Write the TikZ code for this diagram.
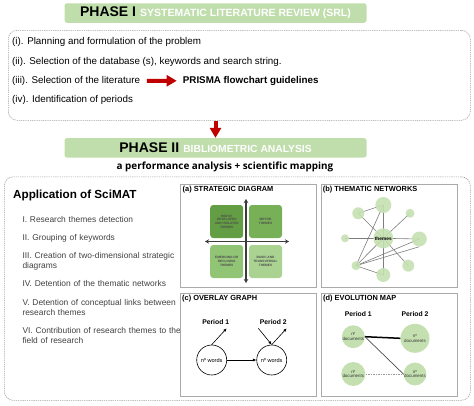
\documentclass[tikz,border=0pt]{standalone}
\usepackage{fontspec}
\setmainfont{Liberation Sans}
\newfontfamily\osans{Open Sans}
\usetikzlibrary{arrows.meta}
\pgfdeclarelayer{background}
\pgfsetlayers{background,main}
\definecolor{bannergreen}{RGB}{192,222,172}
\definecolor{nodegreen}{RGB}{196,224,176}
\definecolor{arrowred}{RGB}{192,0,0}
\definecolor{sqA}{RGB}{100,158,68}
\definecolor{sqB}{RGB}{120,176,88}
\definecolor{sqC}{RGB}{146,196,118}
\definecolor{sqD}{RGB}{170,210,145}
\definecolor{txtgray}{RGB}{64,64,64}
\definecolor{boxgray}{RGB}{160,160,160}
\definecolor{panelgray}{RGB}{170,170,170}
\definecolor{edgegray}{RGB}{125,125,125}
\definecolor{axisgray}{RGB}{60,60,60}
\begin{document}
\begin{tikzpicture}[x=1pt,y=-1pt,
  banner/.style={fill=bannergreen, rounded corners=2.5pt, minimum width=302pt, minimum height=19.5pt, inner sep=0pt},
  phasebox/.style={draw=boxgray, line width=0.6pt, dash pattern=on 1.3pt off 0.9pt, rounded corners=9pt, inner sep=0pt, anchor=north west},
  panel/.style={draw=panelgray, line width=0.8pt, minimum width=136pt, minimum height=103pt, inner sep=0pt, anchor=north west},
  bodytxt/.style={font=\fontsize{9.8}{11}\selectfont, anchor=base west, inner sep=0pt},
  listtxt/.style={font=\fontsize{8.4}{10}\selectfont, text=txtgray, anchor=base west, inner sep=0pt, text width=175pt, align=left},
  ptitle/.style={font=\fontsize{7.4}{8}\selectfont\bfseries, anchor=base west, inner sep=0pt},
  redarrow/.style={draw=arrowred, line width=4pt, -{Triangle[length=10pt,width=11pt]}},
  sq/.style={rounded corners=3pt, minimum width=33pt, minimum height=33pt, inner sep=0pt, align=center, font=\fontsize{3.2}{3.7}\selectfont\bfseries, text=black!70},
  axisline/.style={draw=axisgray, line width=1.4pt, {Stealth[length=4pt,width=4.5pt]}-{Stealth[length=4pt,width=4.5pt]}},
  netnode/.style={circle, fill=nodegreen, fill opacity=0.9, inner sep=0pt, minimum size=#1},
  netedge/.style={draw=edgegray, line width=0.6pt},
  wordcircle/.style={circle, draw=black, line width=0.6pt, minimum size=30pt, inner sep=0pt, font=\fontsize{5.6}{6}\selectfont},
  flowarrow/.style={draw=black, line width=0.6pt, -{Latex[length=3.5pt,width=3pt]}},
  pertxt/.style={font=\fontsize{6.8}{7}\selectfont\bfseries, inner sep=0pt},
  docnode/.style={circle, fill=nodegreen, inner sep=0pt, minimum size=#1, align=center, font=\fontsize{4.4}{4.8}\selectfont, text=black!80}
]
\useasboundingbox (0,0) rectangle (474,405);

% ---------- Phase I ----------
\node[banner] (ph1) at (215.5,13) {{\fontsize{14}{14}\selectfont\bfseries PHASE I}\hspace{4pt}{\fontsize{10.5}{10.5}\selectfont\bfseries\color{white}SYSTEMATIC LITERATURE REVIEW (SRL)}};
\node[phasebox, minimum width=462pt, minimum height=90pt] (box1) at (8,30) {};
\node[bodytxt] (it1) at (12,44) {(i). Planning and formulation of the problem};
\node[bodytxt] (it2) at (12,64) {(ii). Selection of the database (s), keywords and search string.};
\node[bodytxt] (it3) at (12,83.3) {(iii). Selection of the literature};
\node[bodytxt, font=\fontsize{9.8}{11}\selectfont\bfseries] (prisma) at (182.7,83.3) {PRISMA flowchart guidelines};
\node[bodytxt] (it4) at (12,102.3) {(iv). Identification of periods};
\draw[redarrow, shorten <=6.7pt, shorten >=6pt] (it3) -- (prisma);

% ---------- Phase II ----------
\node[banner] (ph2) at (215.5,147.8) {{\fontsize{14}{14}\selectfont\bfseries PHASE II}\hspace{4pt}{\fontsize{10.3}{10.3}\selectfont\bfseries\color{white}BIBLIOMETRIC ANALYSIS}};
\draw[redarrow] (ph2.north |- box1.south) -- (ph2.north);
\node[font=\osans\bfseries\fontsize{9.9}{11}\selectfont, inner sep=0pt] (sub) at (225,166.5) {a performance analysis + scientific mapping};
\node[phasebox, minimum width=466pt, minimum height=223.5pt] (box2) at (4,176.5) {};

\node[font=\fontsize{11.7}{13}\selectfont\bfseries, anchor=base west, inner sep=0pt] (app) at (13,198.5) {Application of SciMAT};
\node[listtxt] (l1) at (22.3,222) {I. Research themes detection};
\node[listtxt] (l2) at (22.3,240.3) {II. Grouping of keywords};
\node[listtxt] (l3) at (22.3,258.7) {III. Creation of two-dimensional strategic\\diagrams};
\node[listtxt] (l4) at (22.3,286.7) {IV. Detention of the thematic networks};
\node[listtxt] (l5) at (22.3,305.5) {V. Detention of conceptual links between\\research themes};
\node[listtxt] (l6) at (22.3,333) {VI. Contribution of research themes to the\\field of research};

% ---------- Panels ----------
\node[panel] (pa) at (180,184) {};
\node[panel] (pb) at (320.5,184) {};
\node[panel] (pc) at (180,292.5) {};
\node[panel] (pd) at (320.5,292.5) {};
\node[ptitle] (ta) at (182.5,191.3) {(a) STRATEGIC DIAGRAM};
\node[ptitle] (tb) at (322.7,191.3) {(b) THEMATIC NETWORKS};
\node[ptitle] (tc) at (182,300.5) {(c) OVERLAY GRAPH};
\node[ptitle] (td) at (323,300.5) {(d) EVOLUTION MAP};

% (a) strategic diagram
\node[sq, fill=sqA] (s1) at (226.7,221.5) {HIGHLY\\DEVELOPED\\AND ISOLATED\\THEMES};
\node[sq, fill=sqB] (s2) at (265.5,221.5) {MOTOR\\THEMES};
\node[sq, fill=sqC] (s3) at (226.7,261.5) {EMERGING OR\\DECLINING\\THEMES};
\node[sq, fill=sqD] (s4) at (265.5,261.5) {BASIC AND\\TRANSVERSAL\\THEMES};
\coordinate (vt) at (246,199);
\coordinate (vb) at (246,283);
\coordinate (hl) at (205,241.5);
\coordinate (hr) at (289,241.5);
\draw[axisline] (vb) -- (vt);
\draw[axisline] (hl) -- (hr);

% (b) thematic network
\node[netnode=16pt] (nT) at (383.3,205) {};
\node[netnode=12pt] (nUL) at (358.3,213.3) {};
\node[netnode=9pt] (nUR) at (410,213.3) {};
\node[netnode=8pt] (nL) at (345,238.3) {};
\node[netnode=20pt] (nC) at (383.3,238.3) {};
\node[netnode=15pt] (nR) at (419.3,239) {};
\node[netnode=9pt] (nBL) at (356,265.7) {};
\node[netnode=14pt] (nB) at (383.3,275) {};
\node[netnode=12pt] (nBR) at (408.3,265.7) {};
\begin{pgfonlayer}{background}
\draw[netedge] (nUL.center) -- (nT.center);
\draw[netedge] (nUL.center) -- (nC.center);
\draw[netedge] (nT.center) -- (nC.center);
\draw[netedge] (nT.center) -- (nBL.center);
\draw[netedge] (nUR.center) -- (nC.center);
\draw[netedge] (nL.center) -- (nC.center);
\draw[netedge] (nC.center) -- (nR.center);
\draw[netedge] (nC.center) -- (nBL.center);
\draw[netedge] (nC.center) -- (nBR.center);
\draw[netedge] (nC.center) -- (nB.center);
\draw[netedge] (nBL.center) -- (nR.center);
\draw[netedge] (nBL.center) -- (nR.south);
\draw[netedge] (nBL.center) -- (nB.center);
\end{pgfonlayer}
\node[font=\fontsize{4.8}{5}\selectfont\bfseries, inner sep=0pt] (themeslbl) at (nC.center) {themes};

% (c) overlay graph
\node[wordcircle] (c1) at (211.7,360) {nº words};
\node[wordcircle] (c2) at (271.7,360) {nº words};
\draw[flowarrow] (c1) -- (c2);
\node[pertxt] (cp1) at (215.7,321.7) {Period 1};
\node[pertxt] (cp2) at (273.3,321.7) {Period 2};
\coordinate (a1) at (226.7,328.3);
\coordinate (a2) at (258.3,328.3);
\coordinate (a3) at (286.7,328.3);
\draw[flowarrow] (c1.north) -- (a1);
\draw[flowarrow] (a2) -- (c2.north);
\draw[flowarrow] (c2.north) -- (a3);

% (d) evolution map
\node[pertxt] (dp1) at (358.3,314) {Period 1};
\node[pertxt] (dp2) at (415,314) {Period 2};
\node[docnode=22pt] (d1) at (353.3,336.7) {nº\\documents};
\node[docnode=29pt] (d2) at (415,338.3) {nº\\documents};
\node[docnode=24pt] (d3) at (353.3,374) {nº\\documents};
\node[docnode=19pt] (d4) at (415,374) {nº\\documents};
\draw[line width=1.5pt, black] (d1.east) -- (d2.west);
\draw[line width=0.7pt, black!70] (d1.east) -- (d4.west);
\draw[gray!80, line width=0.8pt, dash pattern=on 1.5pt off 1pt] (d3.east) -- (d4.west);
\end{tikzpicture}
\end{document}
